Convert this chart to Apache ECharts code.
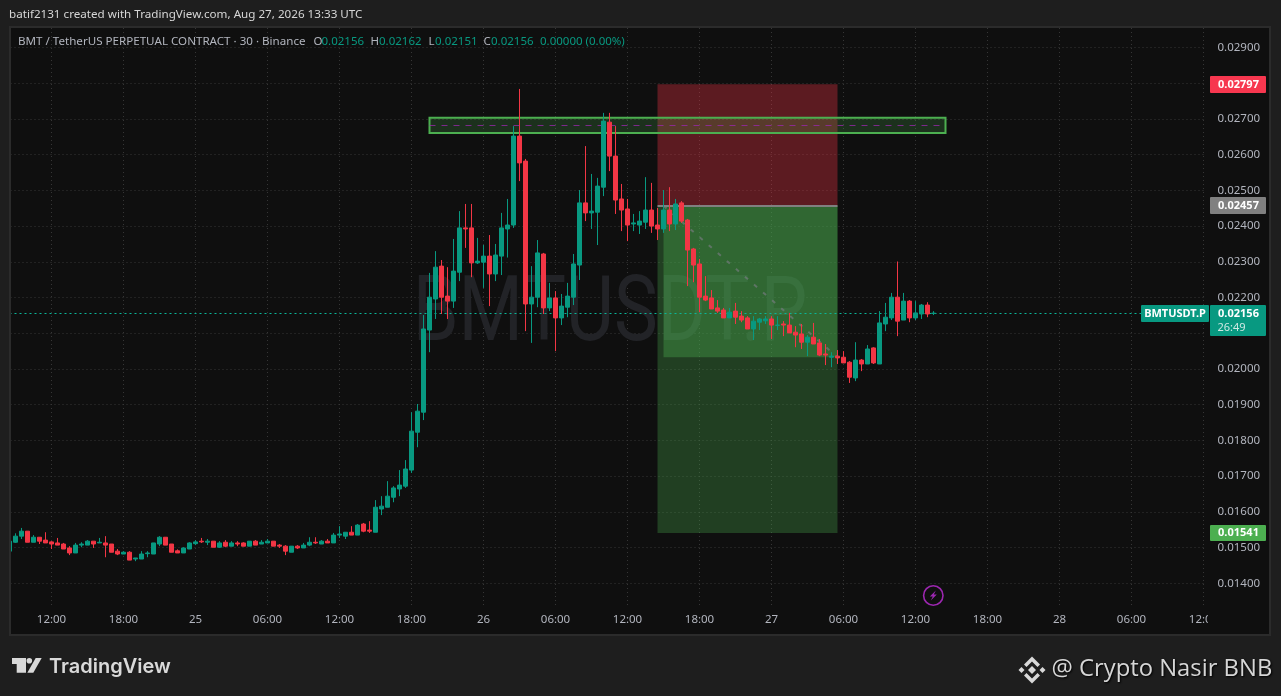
<!DOCTYPE html>
<html><head><meta charset="utf-8">
<style>html,body{margin:0;padding:0;background:#1e1e1e;overflow:hidden}#c{width:1281px;height:696px}</style>
<script src="https://cdn.jsdelivr.net/npm/echarts@6/dist/echarts.min.js"></script>
</head><body><div id="c"></div>
<script>
// prices in units of 0.00001 USDT
const opens=[1490,1515,1532,1546,1515,1529,1521,1516,1513,1510,1499,1485,1507,1507,1518,1513,1513,1510,1490,1482,1487,1468,1468,1483,1482,1510,1529,1510,1491,1485,1496,1511,1518,1515,1518,1501,1515,1504,1513,1513,1504,1518,1510,1513,1518,1507,1504,1487,1504,1499,1507,1515,1510,1518,1513,1535,1532,1543,1535,1566,1549,1543,1608,1613,1641,1664,1672,1717,1823,1879,2109,2196,2288,2204,2190,2271,2395,2395,2297,2299,2316,2266,2316,2392,2403,2652,2582,2182,2201,2322,2171,2199,2143,2173,2201,2291,2465,2437,2439,2509,2691,2596,2476,2448,2406,2403,2411,2445,2403,2392,2445,2406,2465,2417,2336,2294,2204,2199,2171,2165,2143,2162,2148,2143,2112,2131,2135,2140,2122,2126,2123,2103,2098,2075,2089,2073,2042,2033,2036,2033,2019,1975,2025,2014,2059,2014,2126,2143,2201,2137,2190,2143,2154,2179,2156];
const closes=[1518,1532,1546,1515,1529,1518,1513,1510,1507,1496,1485,1507,1510,1518,1510,1515,1507,1487,1482,1487,1465,1471,1482,1485,1513,1529,1507,1487,1485,1499,1513,1516,1516,1518,1501,1513,1504,1513,1510,1504,1518,1507,1515,1518,1504,1504,1490,1504,1499,1507,1515,1513,1518,1513,1535,1538,1543,1535,1563,1546,1546,1613,1616,1644,1667,1675,1720,1826,1882,2112,2201,2285,2201,2190,2274,2395,2392,2297,2302,2316,2266,2319,2395,2403,2652,2577,2182,2201,2325,2171,2199,2143,2176,2204,2294,2465,2437,2442,2512,2694,2596,2473,2445,2403,2409,2414,2445,2400,2392,2445,2406,2462,2414,2333,2291,2201,2193,2168,2162,2143,2159,2145,2137,2112,2134,2140,2140,2123,2123,2123,2101,2095,2075,2089,2070,2039,2039,2036,2031,2017,1977,2025,2014,2056,2017,2129,2145,2201,2134,2190,2143,2157,2179,2154,2156];
const lows=[1490,1513,1524,1515,1515,1510,1513,1496,1507,1496,1479,1485,1501,1507,1499,1513,1473,1487,1479,1482,1465,1462,1468,1473,1482,1504,1507,1487,1485,1485,1496,1507,1513,1507,1501,1499,1501,1504,1504,1504,1504,1507,1510,1513,1504,1499,1479,1487,1496,1499,1504,1510,1510,1513,1513,1527,1524,1535,1535,1543,1541,1543,1591,1613,1627,1644,1667,1709,1781,1857,2047,2140,2154,2140,2171,2246,2339,2257,2294,2227,2176,2246,2263,2312,2395,2526,2106,2073,2173,2154,2162,2050,2123,2145,2179,2249,2414,2392,2347,2484,2554,2434,2386,2358,2386,2378,2392,2381,2361,2381,2386,2389,2409,2232,2243,2159,2190,2168,2157,2143,2143,2126,2131,2112,2081,2109,2126,2084,2109,2092,2101,2061,2056,2036,2070,2036,2011,2005,2014,2017,1961,1966,1994,2014,2014,2014,2106,2137,2092,2137,2131,2137,2140,2145,2151];
const highs=[1518,1540,1555,1546,1535,1529,1543,1518,1527,1513,1504,1513,1515,1521,1518,1527,1532,1510,1496,1490,1490,1471,1490,1490,1513,1532,1529,1510,1495,1501,1515,1521,1527,1524,1518,1518,1521,1518,1518,1515,1518,1521,1521,1524,1518,1510,1507,1504,1507,1513,1529,1529,1521,1524,1541,1560,1543,1560,1566,1569,1574,1633,1644,1686,1672,1717,1745,1879,1902,2151,2269,2330,2305,2285,2364,2442,2462,2462,2367,2347,2375,2350,2437,2476,2680,2784,2588,2288,2361,2325,2241,2218,2210,2241,2322,2501,2624,2546,2535,2717,2717,2680,2518,2476,2434,2442,2537,2521,2451,2501,2509,2476,2470,2420,2339,2308,2260,2221,2193,2171,2171,2185,2162,2148,2148,2143,2148,2148,2148,2134,2157,2120,2126,2095,2129,2084,2070,2047,2053,2050,2022,2075,2028,2067,2061,2162,2185,2213,2301,2213,2193,2190,2182,2187,2162];
const timeTicks={7:'12:00',19:'18:00',31:'25',43:'06:00',55:'12:00',67:'18:00',79:'26',91:'06:00',103:'12:00',115:'18:00',127:'27',139:'06:00',151:'12:00',163:'18:00',175:'28',187:'06:00',199:'12:00'};
const categories=Array.from({length:200},(_,i)=>timeTicks[i]||'');
const priceTicks=[1400,1500,1600,1700,1800,1900,2000,2100,2200,2300,2400,2500,2600,2700,2800,2900];
const hiddenTicks=[2100,2800];
const stopPrice=2797, entryPrice=2457, targetPrice=1541, lastPrice=2156, hitPrice=2033;
const zoneTop=2703, zoneBottom=2661, zoneMid=2682;
const toolStart=108, toolFill=109, toolEnd=138, zoneStart=70, zoneEnd=156;

const UP='#089981',DOWN='#f23645',OUTER='#1e1e1e',PANE='#0f0f0f',AXT='#b2b5be',GRIDC='#363636';
const FONT='"Noto Sans"';
const fmt=v=>(v/1e5).toFixed(5);
const isTick=i=>!!timeTicks[i];
const candleData=opens.map((o,i)=>[o,closes[i],lows[i],highs[i]]);
const seg=(a,b,style)=>[{coord:a,lineStyle:style},{coord:b}];
const box=(a,b,style)=>[{coord:a,itemStyle:style},{coord:b}];

function txt(x,y,text,fill,size,extra){return Object.assign({type:'text',x,y,z:102,silent:true,style:Object.assign({text,fill,font:`${size}px ${FONT}`,textAlign:'left',textVerticalAlign:'middle'},extra||{})});}
function strip(x,y,w,h,fill){return {type:'rect',z:100,silent:true,shape:{x,y,width:w,height:h},style:{fill:fill||OUTER}};}
function tag(x,y,w,h,color,text){return [
 {type:'rect',z:102,silent:true,shape:{x,y,width:w,height:h,r:1},style:{fill:color}},
 {type:'text',z:103,silent:true,x:x+w/2+0.5,y:y+h/2,style:{text,fill:'#fff',font:`bold 11px ${FONT}`,textAlign:'center',textVerticalAlign:'middle'}}];}
function poly(points,fill,z){return {type:'polygon',z:z||102,silent:true,shape:{points},style:{fill}};}
function at(cx,cy,pts){return pts.map(p=>[cx+p[0],cy+p[1]]);}

const g=[];
g.push({type:'text',z:1,silent:true,x:610,y:317,scaleX:0.82,style:{text:'BMTUSDT.P',fill:'#222327',font:'90px Roboto',textAlign:'center',textVerticalAlign:'middle'}});
g.push(strip(0,0,1281,27),strip(0,0,10,696),strip(1270,0,11,696),strip(0,635,1281,61),strip(1208,607,62,27,PANE));
g.push({type:'rect',z:101,silent:true,shape:{x:10,y:27,width:1260,height:608},style:{fill:'none',stroke:'#2b2b2b',lineWidth:2}});
g.push(txt(9,15,'batif2131 created with TradingView.com, Aug 27, 2026 13:33 UTC','#d6d6d6',11.65));
g.push(txt(18,42,'BMT / TetherUS PERPETUAL CONTRACT · 30 · Binance','#b2b5be',11.6));
[['O',313.5,'0.02156',321.5],['H',370.5,'0.02162',379],['L',428.5,'0.02151',435],['C',483.5,'0.02156',491]].forEach(a=>{
 g.push(txt(a[1],42,a[0],'#b2b5be',11.5));g.push(txt(a[3],42,a[2],UP,11.5));});
g.push(txt(540,42,'0.00000 (0.00%)',UP,11.5));
g.push(...tag(1210,76,56,17,'#f7374f',fmt(stopPrice)));
g.push(...tag(1210,197,56,17,'#808080',fmt(entryPrice)));
g.push(...tag(1210,525,56,16,'#4caf50',fmt(targetPrice)));
g.push({type:'rect',z:102,silent:true,shape:{x:1141,y:305,width:68,height:17,r:1},style:{fill:UP}});
g.push({type:'text',z:103,silent:true,x:1175,y:313.5,style:{text:'BMTUSDT.P',fill:'#fff',font:`bold 11px ${FONT}`,textAlign:'center',textVerticalAlign:'middle'}});
g.push({type:'rect',z:102,silent:true,shape:{x:1210,y:305,width:56,height:31,r:1},style:{fill:UP}});
g.push({type:'text',z:103,silent:true,x:1238.5,y:314,style:{text:fmt(lastPrice),fill:'#fff',font:`bold 11px ${FONT}`,textAlign:'center',textVerticalAlign:'middle'}});
g.push({type:'text',z:103,silent:true,x:1217.5,y:327.5,style:{text:'26:49',fill:'#cfe9e4',font:`11px ${FONT}`,textAlign:'left',textVerticalAlign:'middle'}});
// lightning marker
g.push({type:'circle',z:102,silent:true,shape:{cx:933.3,cy:595.5,r:9.7},style:{fill:'none',stroke:'#9c27b0',lineWidth:1.6}});
g.push(poly(at(933.3,595.5,[[2.5,-5],[-3.5,1],[-0.5,1],[-2.5,5],[3.5,-1],[0.5,-1]]),'#9c27b0'));
// TradingView logo
const LOGO='#d9d9d9';
g.push(poly([[12,658],[26,658],[26,672.7],[16.7,672.7],[16.7,664],[12,664]],LOGO));
g.push({type:'circle',z:102,silent:true,shape:{cx:29.3,cy:660.7,r:2.8},style:{fill:LOGO}});
g.push(poly([[35.7,658],[41.7,658],[33.3,672.7],[27.3,672.7]],LOGO));
g.push({type:'text',z:102,silent:true,x:49,y:666.5,style:{text:'TradingView',fill:LOGO,font:'600 20px Inter',textAlign:'left',textVerticalAlign:'middle'}});
// exchange mark
const B=[1032,670];
g.push(poly(at(B[0],B[1],[[0,-4],[4,0],[0,4],[-4,0]]),LOGO));
g.push(poly(at(B[0],B[1],[[-10.5,-3],[-7.5,0],[-10.5,3],[-13.5,0]]),LOGO));
g.push(poly(at(B[0],B[1],[[10.5,-3],[13.5,0],[10.5,3],[7.5,0]]),LOGO));
g.push(poly(at(B[0],B[1],[[0,-13.5],[8,-5.5],[5.5,-3],[0,-8.5],[-5.5,-3],[-8,-5.5]]),LOGO));
g.push(poly(at(B[0],B[1],[[0,13.5],[8,5.5],[5.5,3],[0,8.5],[-5.5,3],[-8,5.5]]),LOGO));
g.push({type:'text',z:102,silent:true,x:1051.5,y:669.5,style:{text:'@ Crypto Nasir BNB',fill:'#d6d6d6',font:'23.8px "Open Sans"',textAlign:'left',textVerticalAlign:'middle',textShadowColor:'#000',textShadowBlur:2,textShadowOffsetX:1,textShadowOffsetY:1}});

const chart=echarts.init(document.getElementById('c'),null,{renderer:'canvas'});
chart.setOption({
 animation:false,
 backgroundColor:PANE,
 grid:{left:6.5,width:1200,top:28,height:578,show:false},
 xAxis:{type:'category',data:categories,boundaryGap:true,
  axisLine:{show:false},axisTick:{show:false},
  axisLabel:{interval:(i)=>isTick(i),color:AXT,fontFamily:FONT,fontSize:11.5,margin:8,hideOverlap:false},
  splitLine:{show:true,alignWithLabel:true,interval:(i)=>isTick(i),lineStyle:{color:GRIDC,type:[1,3],width:1}}},
 yAxis:{type:'value',position:'right',min:1336.5,max:2954.6,scale:true,
  axisLine:{show:false},
  axisTick:{show:false,customValues:priceTicks},
  axisLabel:{customValues:priceTicks.filter(v=>!hiddenTicks.includes(v)),color:AXT,fontFamily:FONT,fontSize:11.5,margin:11,formatter:v=>fmt(v)},
  splitLine:{show:true,lineStyle:{color:GRIDC,type:[1,3],width:1}}},
 series:[{type:'candlestick',z:5,barWidth:4,data:candleData,
  itemStyle:{color:UP,color0:DOWN,borderColor:UP,borderColor0:DOWN,borderWidth:1},
  markArea:{silent:true,z:1,animation:false,label:{show:false},data:[
   box([toolStart,stopPrice],[toolEnd,entryPrice],{color:'rgba(242,54,69,0.34)'}),
   box([toolStart,entryPrice],[toolEnd,targetPrice],{color:'rgba(76,175,80,0.30)'}),
   box([toolFill,entryPrice],[toolEnd,hitPrice],{color:'rgba(76,175,80,0.36)'}),
   box([zoneStart,zoneTop],[zoneEnd,zoneBottom],{color:'rgba(76,175,80,0.22)',borderColor:'#4caf50',borderWidth:2})
  ]},
  markLine:{silent:true,z:1,animation:false,symbol:'none',label:{show:false},data:[
   seg([toolStart,entryPrice],[toolEnd,entryPrice],{color:'#808080',width:2,type:'solid'}),
   seg([toolFill,entryPrice],[toolEnd,hitPrice],{color:'rgba(125,125,135,0.6)',width:2,type:[4,8]}),
   seg([zoneStart,zoneMid],[zoneEnd,zoneMid],{color:'rgba(156,39,176,0.75)',width:1,type:[6,6]}),
   seg([0,lastPrice],[199,lastPrice],{color:'#0bb598',width:1,type:[2,3]})
  ]}
 }],
 graphic:{elements:g}
});
</script></body></html>
